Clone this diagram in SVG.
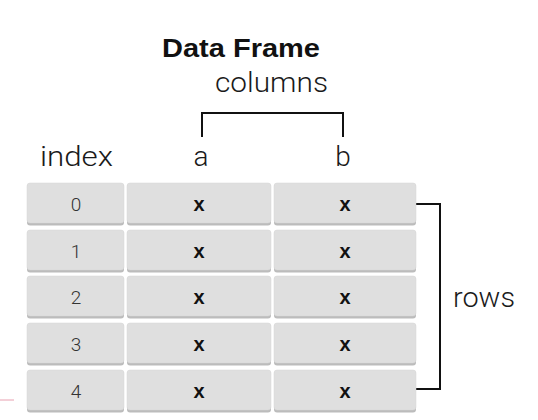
<svg xmlns="http://www.w3.org/2000/svg" width="538" height="420" viewBox="0 0 538 420">
<style>
.cell{fill:#dfdfdf;stroke:#d4d4d4;stroke-width:0.5}
.sh{fill:#bcbcbc}
.idx{font-family:Roboto,"Liberation Sans",Arial,sans-serif;font-weight:300;font-size:19px;fill:#333;text-anchor:middle}
.x{font-family:"Liberation Sans",Arial,sans-serif;font-size:20px;font-weight:bold;fill:#111;text-anchor:middle}
.lbl{font-family:Roboto,"Liberation Sans",sans-serif;font-weight:300;font-size:28px;fill:#1a1a1a}
.br{fill:none;stroke:#111;stroke-width:2}
</style>
<defs>
<g id="rowtpl">
<rect class="sh" x="27" y="1.5" width="97" height="41" rx="3"/>
<rect class="cell" x="27" y="0" width="97" height="40" rx="3"/>
<rect class="sh" x="127" y="1.5" width="144" height="41" rx="3"/>
<rect class="cell" x="127" y="0" width="144" height="40" rx="3"/>
<rect class="sh" x="274" y="1.5" width="142" height="41" rx="3"/>
<rect class="cell" x="274" y="0" width="142" height="40" rx="3"/>
</g>
</defs>
<rect width="538" height="420" fill="#fff"/>
<text x="162" y="57" font-family="'Liberation Sans',Arial,sans-serif" font-weight="bold" font-size="26" fill="#111" textLength="158" lengthAdjust="spacingAndGlyphs">Data Frame</text>
<text class="lbl" x="215" y="92" textLength="113" lengthAdjust="spacingAndGlyphs">columns</text>
<text class="lbl" x="40" y="166" textLength="73" lengthAdjust="spacingAndGlyphs">index</text>
<text class="lbl" x="201" y="166" text-anchor="middle">a</text>
<text class="lbl" x="343" y="166" text-anchor="middle">b</text>
<text class="lbl" x="453" y="307" textLength="62" lengthAdjust="spacingAndGlyphs">rows</text>
<g id="connectors">
<path class="br" d="M202,137 V113 H343 V137"/>
<path class="br" d="M416,204 H440 V389 H416"/>
<line x1="0" y1="400" x2="14" y2="400" stroke="#e8a0b0" stroke-width="1"/>
</g>
<g id="row0" transform="translate(0,183)"><use href="#rowtpl"/><text class="idx" x="76" y="28">0</text><text class="x" x="199" y="28">x</text><text class="x" x="345" y="28">x</text></g>
<g id="row1" transform="translate(0,230)"><use href="#rowtpl"/><text class="idx" x="76" y="28">1</text><text class="x" x="199" y="28">x</text><text class="x" x="345" y="28">x</text></g>
<g id="row2" transform="translate(0,276)"><use href="#rowtpl"/><text class="idx" x="76" y="28">2</text><text class="x" x="199" y="28">x</text><text class="x" x="345" y="28">x</text></g>
<g id="row3" transform="translate(0,323)"><use href="#rowtpl"/><text class="idx" x="76" y="28">3</text><text class="x" x="199" y="28">x</text><text class="x" x="345" y="28">x</text></g>
<g id="row4" transform="translate(0,370)"><use href="#rowtpl"/><text class="idx" x="76" y="28">4</text><text class="x" x="199" y="28">x</text><text class="x" x="345" y="28">x</text></g>
</svg>
